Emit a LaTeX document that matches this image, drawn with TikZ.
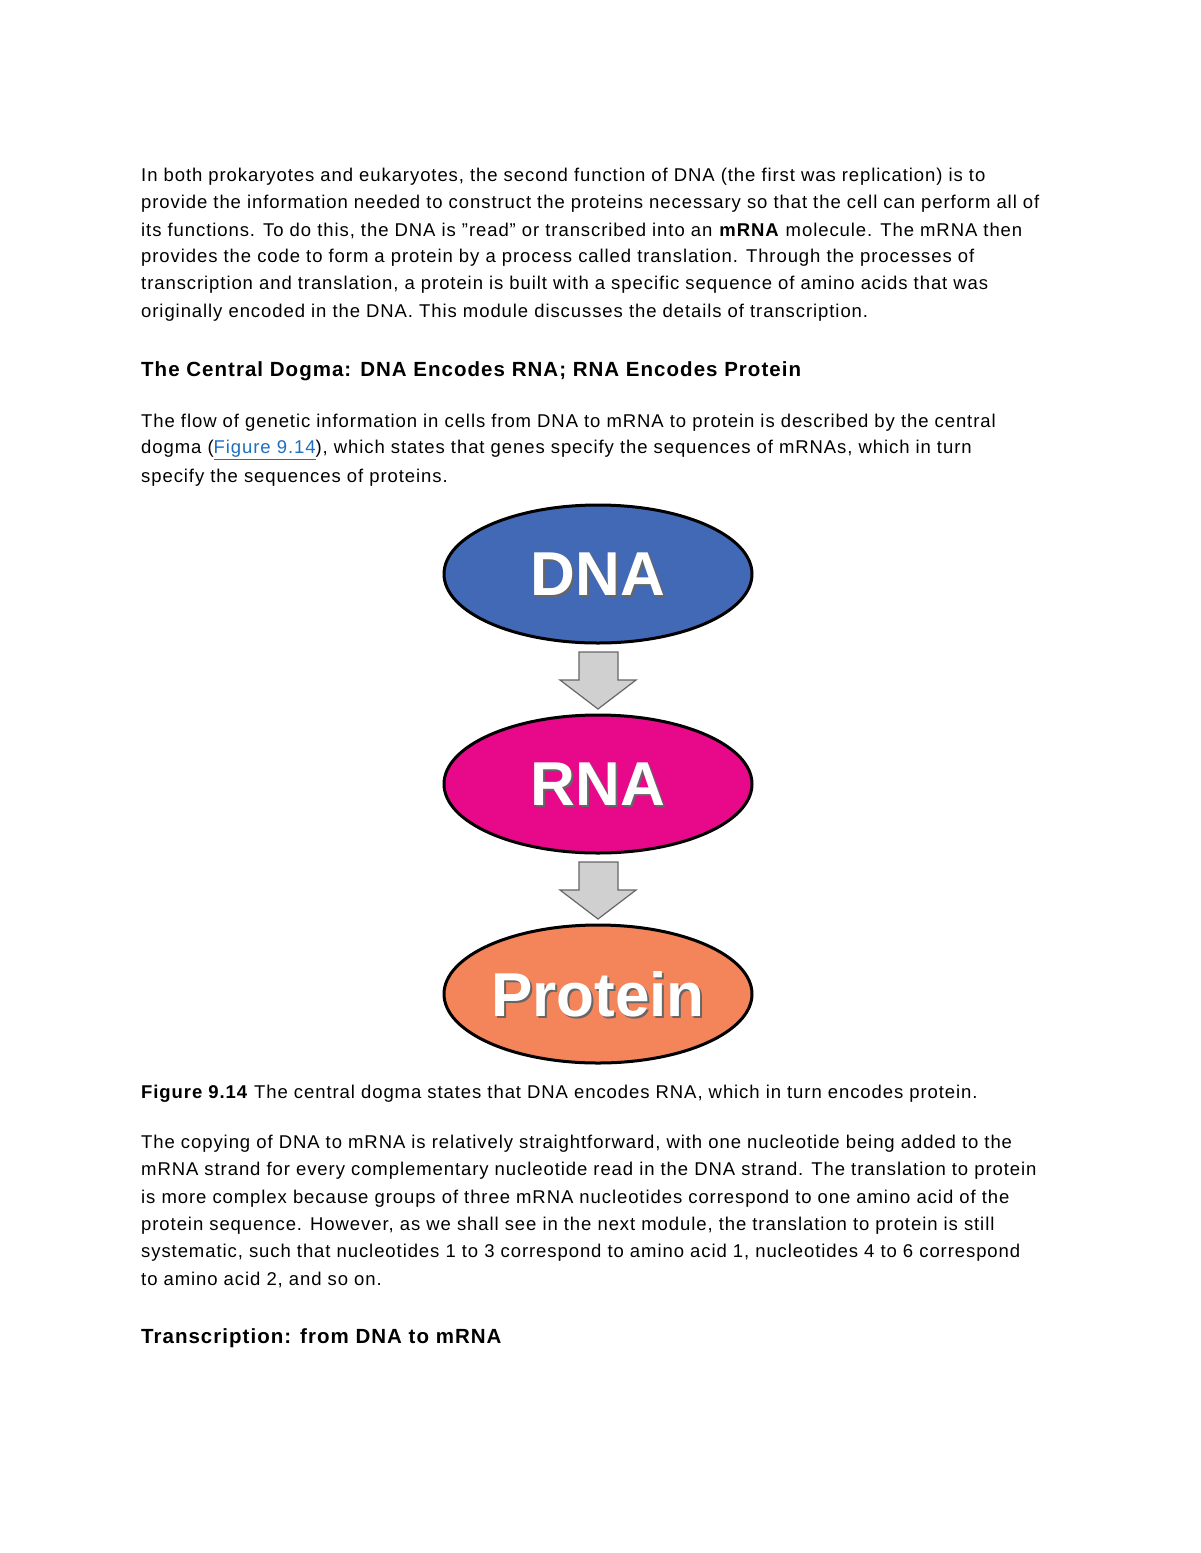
\documentclass[tikz,border=0pt]{standalone}
\usepackage{fontspec}
\setmainfont{Liberation Sans}[LetterSpace=5]
\newfontfamily\bigf{Liberation Sans}
\usetikzlibrary{shapes.geometric}
\definecolor{dnab}{HTML}{4169B6}
\definecolor{rnam}{HTML}{E8088A}
\definecolor{prot}{HTML}{F4845A}
\definecolor{arrg}{HTML}{D0D0D0}
\definecolor{linkb}{HTML}{1F6FC0}
\newcommand{\lnk}[1]{\textcolor{linkb}{\underline{#1}}}
\newcommand{\dq}{\symbol{34}}
\begin{document}
\begin{tikzpicture}[x=1pt,y=-1pt,
  txt/.style={anchor=west,inner sep=0pt,font=\fontsize{18.5}{22}\selectfont},
  hd/.style={anchor=west,inner sep=0pt,font=\fontsize{20.5}{24}\selectfont\bfseries},
  blob/.style={ellipse,draw=black,line width=3pt,minimum width=308pt,minimum height=138pt},
  big/.style={text=white,font=\bigf\fontsize{62}{70}\selectfont\bfseries},
  barr/.style={fill=arrg,draw=gray!80!black,line width=1.2pt}]
\useasboundingbox (0,0) rectangle (1200,1553);
\fill[white] (0,0) rectangle (1200,1553);
\node[txt] (p1) at (141,177) {In both prokaryotes and eukaryotes, the second function of DNA (the first was replication) is to};
\node[txt] (p2) at (141,204) {provide the information needed to construct the proteins necessary so that the cell can perform all of};
\node[txt] (p3) at (141,231) {its functions. To do this, the DNA is \dq read\dq{} or transcribed into an \textbf{mRNA} molecule. The mRNA then};
\node[txt] (p4) at (141,258) {provides the code to form a protein by a process called translation. Through the processes of};
\node[txt] (p5) at (141,285) {transcription and translation, a protein is built with a specific sequence of amino acids that was};
\node[txt] (p6) at (141,313) {originally encoded in the DNA. This module discusses the details of transcription.};
\node[hd] (h1) at (141,371) {The Central Dogma: DNA Encodes RNA; RNA Encodes Protein};
\node[txt] (q1) at (141,423) {The flow of genetic information in cells from DNA to mRNA to protein is described by the central};
\node[txt] (q2) at (141,450) {dogma (\lnk{Figure 9.14}), which states that genes specify the sequences of mRNAs, which in turn};
\node[txt] (q3) at (141,478) {specify the sequences of proteins.};
\node[blob,fill=dnab] (dna) at (598,574) {};
\node[blob,fill=rnam] (rna) at (598,784) {};
\node[blob,fill=prot] (pro) at (598,994) {};
\foreach \n/\t in {dna/DNA,rna/RNA,pro/Protein}{
  \node[big,text=black!60] at ([shift={(2,2)}]\n.center) {\t};
  \node[big] at (\n.center) {\t};}
\foreach \a in {652,862}{
  \draw[barr] (579,\a) -- (618,\a) -- (618,\a+28) -- (636,\a+28) -- (598,\a+57) -- (560,\a+28) -- (579,\a+28) -- cycle;}
\node[txt] (cap) at (141,1094) {\textbf{Figure 9.14} The central dogma states that DNA encodes RNA, which in turn encodes protein.};
\node[txt] (r1) at (141,1144) {The copying of DNA to mRNA is relatively straightforward, with one nucleotide being added to the};
\node[txt] (r2) at (141,1171) {mRNA strand for every complementary nucleotide read in the DNA strand. The translation to protein};
\node[txt] (r3) at (141,1199) {is more complex because groups of three mRNA nucleotides correspond to one amino acid of the};
\node[txt] (r4) at (141,1226) {protein sequence. However, as we shall see in the next module, the translation to protein is still};
\node[txt] (r5) at (141,1253) {systematic, such that nucleotides 1 to 3 correspond to amino acid 1, nucleotides 4 to 6 correspond};
\node[txt] (r6) at (141,1280) {to amino acid 2, and so on.};
\node[hd] (h2) at (141,1338) {Transcription: from DNA to mRNA};
\end{tikzpicture}
\end{document}
